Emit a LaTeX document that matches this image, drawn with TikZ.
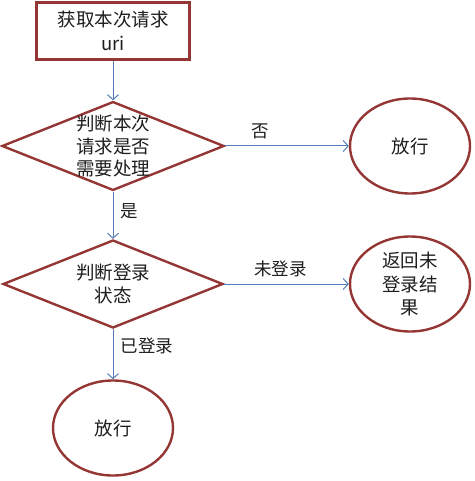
\documentclass[tikz,border=0pt]{standalone}
\usepackage{fontspec}
\setmainfont{Noto Sans CJK SC}
\usetikzlibrary{arrows.meta,shapes.geometric}
\definecolor{boxred}{RGB}{148,54,52}
\definecolor{lineblue}{RGB}{84,124,182}
\definecolor{textgray}{RGB}{30,30,30}
\tikzstyle{block} = [draw=boxred, line width=2.4pt, rectangle, align=center,
    minimum height=57pt, minimum width=153pt, text=textgray,
    font=\fontsize{18.5}{24}\selectfont]
\tikzstyle{decision} = [draw=boxred, line width=2.4pt, diamond, aspect=2.5,
    inner sep=-1pt, align=center, minimum width=220pt, minimum height=88pt,
    text=textgray, font=\fontsize{18.5}{22.5}\selectfont]
\tikzstyle{terminal} = [draw=boxred, line width=2.4pt, ellipse, align=center,
    minimum width=120pt, minimum height=95pt, inner sep=0pt, text=textgray,
    font=\fontsize{18.5}{23.5}\selectfont]
\tikzstyle{flow} = [->, draw=lineblue, line width=1pt]
\tikzstyle{tag} = [text=textgray, inner sep=7pt, font=\fontsize{17.5}{20}\selectfont]

\begin{document}
\begin{tikzpicture}[auto, node distance=115pt, >={Straight Barb[length=5pt,width=11pt]}]
    \useasboundingbox (0,0) rectangle (474pt,-481pt);
    \node [block] (fetch) at (113pt,-31pt) {获取本次请求\\uri};
    \node [decision, below of=fetch] (check) {判断本次\\请求是否\\需要处理};
    \node [terminal, right of=check, node distance=297pt] (pass1) {放行};
    \node [decision, below of=check, node distance=138pt] (login) {判断登录\\状态};
    \node [terminal, right of=login, node distance=297pt] (deny) {返回未\\登录结\\果};
    \node [terminal, below of=login, node distance=144pt] (pass2) {放行};
    \draw [flow] (fetch) -- (check);
    \draw [flow] (check) -- node [tag, pos=0.28] {否} (pass1);
    \draw [flow] (check) -- node [tag, pos=0.42] {是} (login);
    \draw [flow] (login) -- node [tag, pos=0.45] {未登录} (deny);
    \draw [flow] (login) -- node [tag, pos=0.33] {已登录} (pass2);
\end{tikzpicture}
\end{document}
